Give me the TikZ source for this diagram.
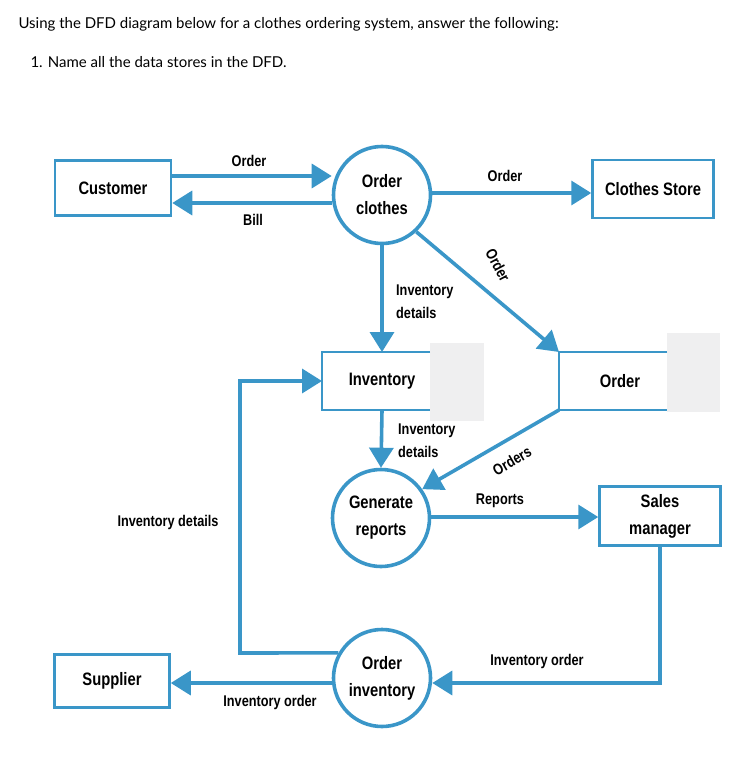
\documentclass[tikz,border=0pt]{standalone}
\usepackage{fontspec}
\setmainfont{Liberation Sans}[FakeStretch=0.82]
\newfontfamily\lato{Lato}
\usetikzlibrary{arrows.meta}
\definecolor{dfd}{HTML}{3A96C8}
\definecolor{storegray}{HTML}{EFEFF0}
\begin{document}
\begin{tikzpicture}[x=1pt,y=-1pt,
  flow/.style={draw=dfd,line width=3.6pt,-{Triangle[length=20pt,width=24pt]}},
  ent/.style={draw=dfd,line width=2.5pt,minimum width=#1,minimum height=55pt,inner sep=0pt,font=\fontsize{18}{20}\selectfont\bfseries},
  proc/.style={draw=dfd,line width=3.6pt,circle,minimum size=97pt,inner sep=0pt,align=center,font=\fontsize{18}{27}\selectfont\bfseries},
  lbl/.style={font=\fontsize{15.5}{23}\selectfont\bfseries,align=left,inner sep=0pt},
  ttl/.style={font=\fontsize{18}{20}\selectfont\bfseries,inner sep=0pt}]
\useasboundingbox (0,0) rectangle (750,765);
\node[anchor=west,font=\lato\fontsize{15}{18}\selectfont] (h1) at (15,24) {Using the DFD diagram below for a clothes ordering system, answer the following:};
\node[anchor=west,font=\lato\fontsize{15}{18}\selectfont] (h2) at (27,62) {1. Name all the data stores in the DFD.};
% entities
\node[ent=116pt] (cust) at (113,188) {Customer};
\node[ent=121pt,minimum height=58pt] (cs) at (653,189) {Clothes Store};
\node[ent=121pt,minimum height=59pt,align=center,font=\fontsize{18}{27}\selectfont\bfseries] (sm) at (660,516) {Sales\\manager};
\node[ent=115pt,minimum height=53pt] (sup) at (112,681) {Supplier};
% processes
\node[proc] (oc) at (382,195) {Order\\clothes};
\node[proc] (gr) at (381,518) {Generate\\reports};
\node[proc] (oi) at (382,678) {Order\\inventory};
% data stores
\fill[storegray] (430,343) rectangle (484,421);
\fill[storegray] (667,333) rectangle (720,412);
\draw[dfd,line width=2.5pt] (430,352) -- (322,352) -- (322,410) -- (430,410);
\draw[dfd,line width=2.5pt] (667,352) -- (559,352) -- (559,410) -- (667,410);
\node[ttl] (inv) at (382,381) {Inventory};
\node[ttl] (ord) at (620,381) {Order};
\coordinate (invN) at (382,352);
\coordinate (invS) at (382,410);
\coordinate (invW) at (322,381);
\coordinate (ordNW) at (559,352);
\coordinate (ordSW) at (559,410);
% flows
\draw[flow] (cust.east|-0,176) -- (oc.west|-0,176) coordinate (a1);
\draw[flow] (oc.west|-0,203) -- (cust.east|-0,203);
\node[lbl] (l1) at (249,161) {Order};
\node[lbl] (l2) at (253,220) {Bill};
\draw[flow] (oc.east|-0,193) -- (cs.west|-0,193);
\node[lbl] (l3) at (505,176) {Order};
\draw[flow] (oc.-47) -- (ordNW);
\node[lbl,rotate=-62] (l4) at (498,265) {Order};
\draw[flow] (oc.south) -- (invN);
\node[lbl,anchor=west] (l5) at (396,302) {Inventory\\details};
\draw[flow] (invS) -- (gr.north);
\node[lbl,anchor=west] (l6) at (398,441) {Inventory\\details};
\draw[flow] (ordSW) -- (gr.35);
\node[lbl,rotate=30] (l7) at (512,461) {Orders};
\draw[flow] (gr.east|-0,517) -- (sm.west|-0,517);
\node[lbl] (l8) at (500,501) {Reports};
\draw[flow] (sm.south) -- (660,683) -- (oi.east|-0,683);
\node[lbl] (l9) at (537,661) {Inventory order};
\draw[flow] (oi.west|-0,683) -- (sup.east|-0,683);
\node[lbl] (l10) at (270,702) {Inventory order};
\draw[flow] (oi.150) -- (240,653) -- (240,381) -- (invW);
\node[lbl] (l11) at (168,522) {Inventory details};
\end{tikzpicture}
\end{document}
